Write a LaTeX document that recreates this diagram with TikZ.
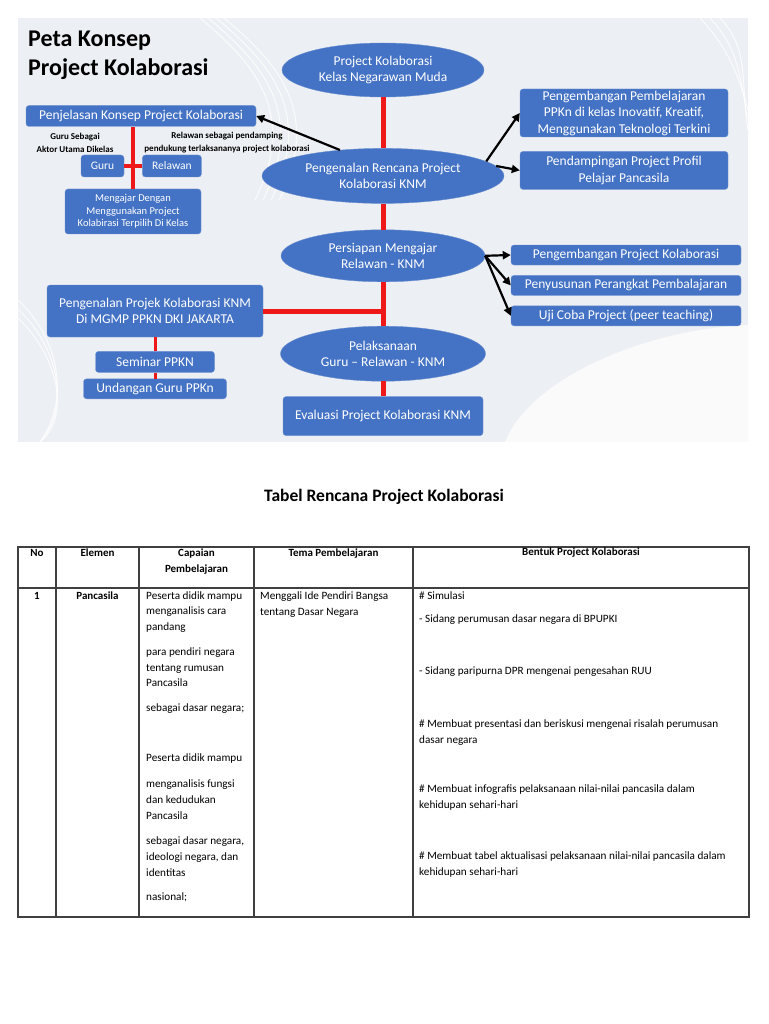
\documentclass[tikz,border=0pt]{standalone}
\usepackage{fontspec}
\setmainfont{Carlito}
\usepackage{tikz}
\usetikzlibrary{shapes.geometric, arrows.meta, positioning}

\definecolor{kblue}{RGB}{68,114,196}
\definecolor{kred}{RGB}{238,24,24}
\definecolor{panel}{RGB}{236,239,243}

\begin{document}
\begin{tikzpicture}[
    x=1pt, y=-1pt,
    oval/.style={ellipse, fill=kblue, draw=kblue!80!white, text=white, align=center,
                 inner sep=0pt, font=\fontsize{13.5}{16.5}\selectfont},
    box/.style={draw=kblue!75!white, fill=kblue, rounded corners=3pt, text=white,
                align=center, inner sep=1pt, font=\fontsize{13.5}{16.5}\selectfont},
    tie/.style={draw=kred, line width=5pt},
    thintie/.style={draw=kred, line width=3.5pt},
    arr/.style={-{Triangle[length=8pt, width=8pt]}, line width=2.2pt},
    note/.style={align=center, font=\bfseries\fontsize{9}{13}\selectfont},
    swirl/.style={draw=white, line width=1pt, opacity=0.8},
    cell/.style={anchor=west, inner sep=0pt, text height=7.5pt, text depth=2.3pt,
                 font=\fontsize{11.2}{13}\selectfont},
    head/.style={cell, anchor=center, font=\bfseries\fontsize{11}{13}\selectfont},
    grid/.style={line width=1.2pt, black!75},
]
    \useasboundingbox (0,0) rectangle (768,1024);
    \fill[white] (0,0) rectangle (768,1024);
    \fill[panel] (18,18) rectangle (748,442);

    % background swirls
    \fill[white, opacity=0.75] (748,325) .. controls (640,330) and (530,380) .. (505,442) -- (748,442) -- cycle;
    \foreach \d in {0,8,16,24}
        \draw[swirl] (200+\d,18) .. controls (250+\d,60) and (300+\d,110) .. (255+\d,200);
    \foreach \d in {0,9,18}
        \draw[swirl] (18,300+\d) .. controls (60,340+\d) and (70,400+\d) .. (40,442);
    \foreach \d in {0,10,20}
        \draw[swirl] (700+\d,18) .. controls (730+\d,50) and (740,80) .. (748,110+\d);

    % Title
    \node[anchor=north west, align=left, inner sep=0pt,
          font=\bfseries\fontsize{24}{29}\selectfont] (peta) at (28,31) {Peta Konsep\\Project Kolaborasi};

    % Nodes
    \node[oval, minimum width=202pt, minimum height=54pt] (kelas) at (383,70) {Project Kolaborasi\\Kelas Negarawan Muda};
    \node[oval, minimum width=242pt, minimum height=55pt, below=51pt of kelas] (rencana) {Pengenalan Rencana Project\\Kolaborasi KNM};
    \node[oval, minimum width=204pt, minimum height=52pt, below=26pt of rencana] (persiapan) {Persiapan Mengajar\\Relawan - KNM};
    \node[oval, minimum width=205pt, minimum height=55pt, below=44pt of persiapan] (pelaksanaan) {Pelaksanaan\\Guru -- Relawan - KNM};
    \node[box, minimum width=200pt, minimum height=39pt, below=15pt of pelaksanaan] (evaluasi) {Evaluasi Project Kolaborasi KNM};

    \node[box, minimum width=230pt, minimum height=21pt] (konsep) at (141,116) {Penjelasan Konsep Project Kolaborasi};
    \node[note] (peran) at (75,142.5) {Guru Sebagai\\Aktor Utama Dikelas};
    \node[note] (dukung) at (227,142.5) {Relawan sebagai pendamping\\pendukung terlaksananya project kolaborasi};
    \node[box, minimum width=43pt, minimum height=22pt, font=\fontsize{11.5}{13}\selectfont] (guru) at (102.5,166) {Guru};
    \node[box, minimum width=59pt, minimum height=22pt, font=\fontsize{11.5}{13}\selectfont, right=18pt of guru] (relawan) {Relawan};
    \node[box, minimum width=136pt, minimum height=45pt, font=\fontsize{10.5}{12.5}\selectfont] (mengajar) at (133,211.5) {Mengajar Dengan\\Menggunakan Project\\Kolabirasi Terpilih Di Kelas};

    \node[box, minimum width=216pt, minimum height=52pt] (mgmp) at (155,311) {Pengenalan Projek Kolaborasi KNM\\Di MGMP PPKN DKI JAKARTA};
    \node[box, minimum width=119pt, minimum height=21pt, below=14pt of mgmp] (seminar) {Seminar PPKN};
    \node[box, minimum width=143pt, minimum height=20pt, below=6pt of seminar] (undangan) {Undangan Guru PPKn};

    \node[box, minimum width=208pt, minimum height=48pt] (inovasi) at (624,113) {Pengembangan Pembelajaran\\PPKn di kelas Inovatif, Kreatif,\\Menggunakan Teknologi Terkini};
    \node[box, minimum width=208pt, minimum height=38pt, below=14pt of inovasi] (profil) {Pendampingan Project Profil\\Pelajar Pancasila};

    \node[box, minimum width=230pt, minimum height=20pt] (kembang) at (626,255) {Pengembangan Project Kolaborasi};
    \node[box, minimum width=230pt, minimum height=20pt, below=10pt of kembang] (susun) {Penyusunan Perangkat Pembalajaran};
    \node[box, minimum width=230pt, minimum height=20pt, below=10pt of susun] (uji) {Uji Coba Project (peer teaching)};

    % Links
    \draw[tie] (kelas) -- (rencana);
    \draw[tie] (rencana) -- (persiapan);
    \draw[tie] (persiapan) -- (pelaksanaan);
    \draw[tie] (pelaksanaan) -- (evaluasi);
    \draw[tie] (mgmp.east) -- (mgmp.east -| persiapan.south);
    \draw[thintie] (mengajar.north) -- (mengajar.north |- konsep.south);
    \draw[thintie] (guru) -- (relawan);
    \draw[thintie, line width=3pt] (mgmp) -- (seminar) -- (undangan);

    % Arrows
    \draw[arr] (rencana.149) -- (konsep.east);
    \draw[arr] (rencana.8) -- (inovasi.west);
    \draw[arr] (rencana.5) -- (profil.west);
    \draw[arr] (persiapan.east) -- (kembang.west);
    \draw[arr] (persiapan.east) -- (susun.west);
    \draw[arr] (persiapan.east) -- (uji.west);

    % Table
    \node[font=\bfseries\fontsize{17.5}{20}\selectfont] (judul) at (384,497) {Tabel Rencana Project Kolaborasi};
    \draw[grid] (18,547) rectangle (749,917);
    \draw[grid] (18,588) -- (749,588);
    \foreach \cx in {56,139,254,413}
        \draw[grid] (\cx,547) -- (\cx,917);

    \node[head] at (37,554) {No};
    \node[head] at (97.5,554) {Elemen};
    \node[head] at (196.5,554) {Capaian};
    \node[head] at (196.5,570) {Pembelajaran};
    \node[head] at (333.5,554) {Tema Pembelajaran};
    \node[head] at (581,553) {Bentuk Project Kolaborasi};
    \node[head] at (37,597) {1};
    \node[head] at (97.5,597) {Pancasila};

    \foreach \ty/\tx in {597/Peserta didik mampu, 612/menganalisis cara, 628/pandang,
                         653/para pendiri negara, 669/tentang rumusan, 684/Pancasila,
                         709/sebagai dasar negara;, 759/Peserta didik mampu,
                         785/menganalisis fungsi, 801/dan kedudukan, 817/Pancasila,
                         842/{sebagai dasar negara,}, 858/{ideologi negara, dan},
                         874/identitas, 898/nasional;}
        \node[cell] at (146,\ty) {\tx};

    \node[cell] at (260,597) {Menggali Ide Pendiri Bangsa};
    \node[cell] at (260,613) {tentang Dasar Negara};

    \foreach \ty/\tx in {597/\# Simulasi, 620/- Sidang perumusan dasar negara di BPUPKI,
                         672/- Sidang paripurna DPR mengenai pengesahan RUU,
                         725/\# Membuat presentasi dan beriskusi mengenai risalah perumusan,
                         741/dasar negara,
                         790/\# Membuat infografis pelaksanaan nilai-nilai pancasila dalam,
                         806/kehidupan sehari-hari,
                         857/\# Membuat tabel aktualisasi pelaksanaan nilai-nilai pancasila dalam,
                         873/kehidupan sehari-hari}
        \node[cell] at (419,\ty) {\tx};
\end{tikzpicture}
\end{document}
